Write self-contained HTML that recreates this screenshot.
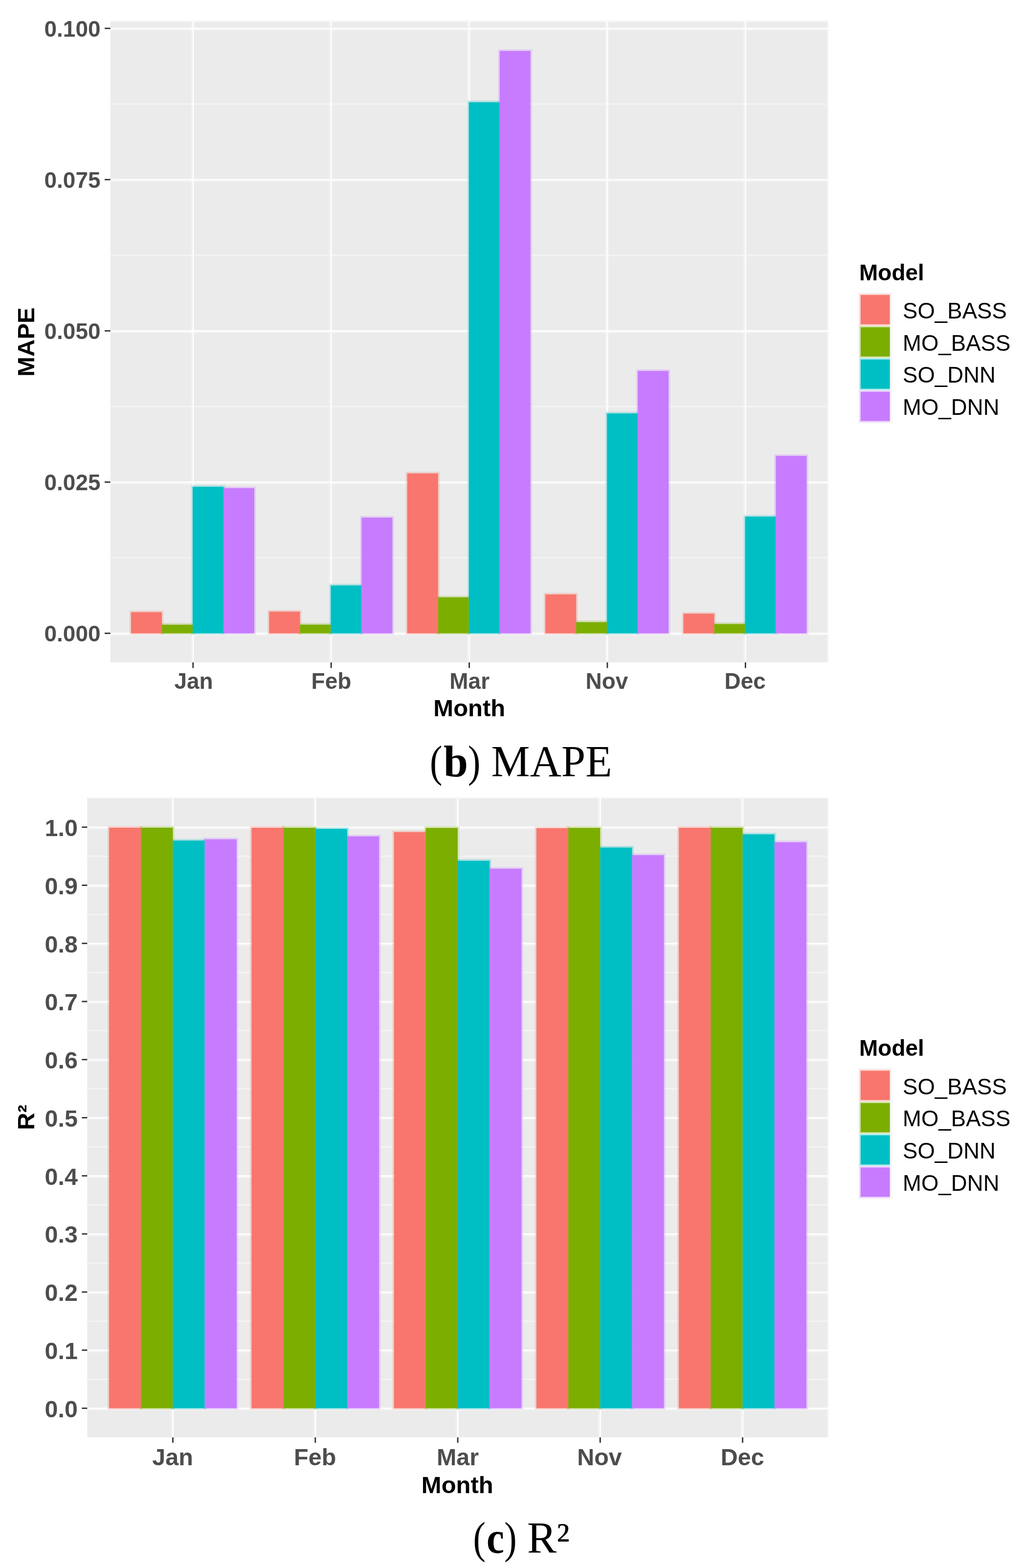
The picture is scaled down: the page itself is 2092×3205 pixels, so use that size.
<!DOCTYPE html>
<html><head><meta charset='utf-8'><title>MAPE and R2 by month</title>
<style>html,body{margin:0;padding:0;background:#fff;}body{width:2092px;height:3205px;overflow:hidden;}svg{display:block;}</style>
</head><body>
<svg width='2092' height='3205' viewBox='0 0 2092 3205'>
<rect x='0' y='0' width='2092' height='3205' fill='#FFFFFF'/>
<rect x='225.7' y='41' width='1467.8' height='3.3' fill='#F9F9F9'/>
<rect x='225.7' y='44.3' width='1467.8' height='1309.5' fill='#EBEBEB'/>
<rect x='1690.5' y='44.3' width='3' height='1309.5' fill='#F1F1F1'/>
<rect x='225.7' y='1138.64' width='1467.8' height='2.8' fill='#F4F4F4'/>
<rect x='225.7' y='829.51' width='1467.8' height='2.8' fill='#F4F4F4'/>
<rect x='225.7' y='520.39' width='1467.8' height='2.8' fill='#F4F4F4'/>
<rect x='225.7' y='211.26' width='1467.8' height='2.8' fill='#F4F4F4'/>
<rect x='225.7' y='1296.1' width='1467.8' height='3' fill='#F2F2F2'/>
<rect x='225.7' y='986.98' width='1467.8' height='3' fill='#F2F2F2'/>
<rect x='225.7' y='677.85' width='1467.8' height='3' fill='#F2F2F2'/>
<rect x='225.7' y='368.73' width='1467.8' height='3' fill='#F2F2F2'/>
<rect x='225.7' y='59.6' width='1467.8' height='3' fill='#F2F2F2'/>
<rect x='390.5' y='44.3' width='3.5' height='1309.5' fill='#F2F2F2'/>
<rect x='672.9' y='44.3' width='3.5' height='1309.5' fill='#F2F2F2'/>
<rect x='955.3' y='44.3' width='3.5' height='1309.5' fill='#F2F2F2'/>
<rect x='1237.7' y='44.3' width='3.5' height='1309.5' fill='#F2F2F2'/>
<rect x='1520.1' y='44.3' width='3.5' height='1309.5' fill='#F2F2F2'/>
<rect x='225.7' y='1293.3' width='1467.8' height='2.8' fill='#FFFFFF'/>
<rect x='225.7' y='984.17' width='1467.8' height='2.8' fill='#FFFFFF'/>
<rect x='225.7' y='675.05' width='1467.8' height='2.8' fill='#FFFFFF'/>
<rect x='225.7' y='365.93' width='1467.8' height='2.8' fill='#FFFFFF'/>
<rect x='225.7' y='56.8' width='1467.8' height='2.8' fill='#FFFFFF'/>
<rect x='394' y='44.3' width='2.4' height='1309.5' fill='#FFFFFF'/>
<rect x='676.4' y='44.3' width='2.4' height='1309.5' fill='#FFFFFF'/>
<rect x='958.8' y='44.3' width='2.4' height='1309.5' fill='#FFFFFF'/>
<rect x='1241.2' y='44.3' width='2.4' height='1309.5' fill='#FFFFFF'/>
<rect x='1523.6' y='44.3' width='2.4' height='1309.5' fill='#FFFFFF'/>
<rect x='264.8' y='1248' width='69.5' height='49' fill='#F8766D' fill-opacity='0.25'/>
<rect x='327.8' y='1273.7' width='69.5' height='23.3' fill='#7CAE00' fill-opacity='0.25'/>
<rect x='390.8' y='991.7' width='69.5' height='305.3' fill='#00BFC4' fill-opacity='0.25'/>
<rect x='453.8' y='994.4' width='69.5' height='302.6' fill='#C77CFF' fill-opacity='0.25'/>
<rect x='268' y='1251.3' width='63' height='43.2' fill='#F8766D'/>
<rect x='331' y='1277' width='63' height='17.5' fill='#7CAE00'/>
<rect x='394' y='995' width='63' height='299.5' fill='#00BFC4'/>
<rect x='457' y='997.7' width='63' height='296.8' fill='#C77CFF'/>
<rect x='547.2' y='1246.9' width='69.5' height='50.1' fill='#F8766D' fill-opacity='0.25'/>
<rect x='610.2' y='1273.6' width='69.5' height='23.4' fill='#7CAE00' fill-opacity='0.25'/>
<rect x='673.2' y='1193.4' width='69.5' height='103.6' fill='#00BFC4' fill-opacity='0.25'/>
<rect x='736.2' y='1054.7' width='69.5' height='242.3' fill='#C77CFF' fill-opacity='0.25'/>
<rect x='550.4' y='1250.2' width='63' height='44.3' fill='#F8766D'/>
<rect x='613.4' y='1276.9' width='63' height='17.6' fill='#7CAE00'/>
<rect x='676.4' y='1196.7' width='63' height='97.8' fill='#00BFC4'/>
<rect x='739.4' y='1058' width='63' height='236.5' fill='#C77CFF'/>
<rect x='829.6' y='964.4' width='69.5' height='332.6' fill='#F8766D' fill-opacity='0.25'/>
<rect x='892.6' y='1217.7' width='69.5' height='79.3' fill='#7CAE00' fill-opacity='0.25'/>
<rect x='955.6' y='205.7' width='69.5' height='1091.3' fill='#00BFC4' fill-opacity='0.25'/>
<rect x='1018.6' y='100.8' width='69.5' height='1196.2' fill='#C77CFF' fill-opacity='0.25'/>
<rect x='832.8' y='967.7' width='63' height='326.8' fill='#F8766D'/>
<rect x='895.8' y='1221' width='63' height='73.5' fill='#7CAE00'/>
<rect x='958.8' y='209' width='63' height='1085.5' fill='#00BFC4'/>
<rect x='1021.8' y='104.1' width='63' height='1190.4' fill='#C77CFF'/>
<rect x='1112' y='1211.7' width='69.5' height='85.3' fill='#F8766D' fill-opacity='0.25'/>
<rect x='1175' y='1268.5' width='69.5' height='28.5' fill='#7CAE00' fill-opacity='0.25'/>
<rect x='1238' y='841.7' width='69.5' height='455.3' fill='#00BFC4' fill-opacity='0.25'/>
<rect x='1301' y='754.9' width='69.5' height='542.1' fill='#C77CFF' fill-opacity='0.25'/>
<rect x='1115.2' y='1215' width='63' height='79.5' fill='#F8766D'/>
<rect x='1178.2' y='1271.8' width='63' height='22.7' fill='#7CAE00'/>
<rect x='1241.2' y='845' width='63' height='449.5' fill='#00BFC4'/>
<rect x='1304.2' y='758.2' width='63' height='536.3' fill='#C77CFF'/>
<rect x='1394.4' y='1251.1' width='69.5' height='45.9' fill='#F8766D' fill-opacity='0.25'/>
<rect x='1457.4' y='1272.3' width='69.5' height='24.7' fill='#7CAE00' fill-opacity='0.25'/>
<rect x='1520.4' y='1052.7' width='69.5' height='244.3' fill='#00BFC4' fill-opacity='0.25'/>
<rect x='1583.4' y='928.6' width='69.5' height='368.4' fill='#C77CFF' fill-opacity='0.25'/>
<rect x='1397.6' y='1254.4' width='63' height='40.1' fill='#F8766D'/>
<rect x='1460.6' y='1275.6' width='63' height='18.9' fill='#7CAE00'/>
<rect x='1523.6' y='1056' width='63' height='238.5' fill='#00BFC4'/>
<rect x='1586.6' y='931.9' width='63' height='362.6' fill='#C77CFF'/>
<rect x='214' y='1293.1' width='11.7' height='2.8' fill='#333333'/>
<rect x='214' y='983.98' width='11.7' height='2.8' fill='#333333'/>
<rect x='214' y='674.85' width='11.7' height='2.8' fill='#333333'/>
<rect x='214' y='365.73' width='11.7' height='2.8' fill='#333333'/>
<rect x='214' y='56.6' width='11.7' height='2.8' fill='#333333'/>
<rect x='393.4' y='1353.8' width='2.8' height='11.7' fill='#333333'/>
<rect x='675.8' y='1353.8' width='2.8' height='11.7' fill='#333333'/>
<rect x='958.2' y='1353.8' width='2.8' height='11.7' fill='#333333'/>
<rect x='1240.6' y='1353.8' width='2.8' height='11.7' fill='#333333'/>
<rect x='1523' y='1353.8' width='2.8' height='11.7' fill='#333333'/>
<text transform='translate(205.6,1311.2)' text-anchor='end' font-family="'Liberation Sans', Arial, sans-serif" font-weight='bold' font-size='46' fill='#4D4D4D'>0.000</text>
<text transform='translate(205.6,1002.08)' text-anchor='end' font-family="'Liberation Sans', Arial, sans-serif" font-weight='bold' font-size='46' fill='#4D4D4D'>0.025</text>
<text transform='translate(205.6,692.95)' text-anchor='end' font-family="'Liberation Sans', Arial, sans-serif" font-weight='bold' font-size='46' fill='#4D4D4D'>0.050</text>
<text transform='translate(205.6,383.82)' text-anchor='end' font-family="'Liberation Sans', Arial, sans-serif" font-weight='bold' font-size='46' fill='#4D4D4D'>0.075</text>
<text transform='translate(205.6,74.7)' text-anchor='end' font-family="'Liberation Sans', Arial, sans-serif" font-weight='bold' font-size='46' fill='#4D4D4D'>0.100</text>
<text transform='translate(396.05,1407.5)' text-anchor='middle' font-family="'Liberation Sans', Arial, sans-serif" font-weight='bold' font-size='46' fill='#4D4D4D'>Jan</text>
<text transform='translate(677.5,1407.5)' text-anchor='middle' font-family="'Liberation Sans', Arial, sans-serif" font-weight='bold' font-size='46' fill='#4D4D4D'>Feb</text>
<text transform='translate(960.2,1407.5)' text-anchor='middle' font-family="'Liberation Sans', Arial, sans-serif" font-weight='bold' font-size='46' fill='#4D4D4D'>Mar</text>
<text transform='translate(1240.9,1407.5)' text-anchor='middle' font-family="'Liberation Sans', Arial, sans-serif" font-weight='bold' font-size='46' fill='#4D4D4D'>Nov</text>
<text transform='translate(1523.7,1407.5)' text-anchor='middle' font-family="'Liberation Sans', Arial, sans-serif" font-weight='bold' font-size='46' fill='#4D4D4D'>Dec</text>
<text transform='translate(959.8,1463.7)' text-anchor='middle' font-family="'Liberation Sans', Arial, sans-serif" font-weight='bold' font-size='49' fill='#000'>Month</text>
<text transform='translate(70.2,699) rotate(-90)' text-anchor='middle' font-family="'Liberation Sans', Arial, sans-serif" font-weight='bold' font-size='49' fill='#000'>MAPE</text>
<text transform='translate(1757,572.5)' font-family="'Liberation Sans', Arial, sans-serif" font-weight='bold' font-size='46' fill='#000'>Model</text>
<rect x='1754' y='597' width='71.7' height='269.5' fill='#FAFAFA'/>
<rect x='1757' y='600' width='65.7' height='65.8' fill='#FFFFFF'/>
<rect x='1819.7' y='600' width='3' height='65.8' fill='#F2F2F2'/>
<rect x='1757' y='600' width='62.7' height='65.8' fill='#F8766D' fill-opacity='0.3'/>
<rect x='1760' y='603' width='59.7' height='59.8' fill='#F8766D'/>
<rect x='1757' y='665.9' width='65.7' height='65.8' fill='#FFFFFF'/>
<rect x='1819.7' y='665.9' width='3' height='65.8' fill='#F2F2F2'/>
<rect x='1757' y='665.9' width='62.7' height='65.8' fill='#7CAE00' fill-opacity='0.3'/>
<rect x='1760' y='668.9' width='59.7' height='59.8' fill='#7CAE00'/>
<rect x='1757' y='731.8' width='65.7' height='65.8' fill='#FFFFFF'/>
<rect x='1819.7' y='731.8' width='3' height='65.8' fill='#F2F2F2'/>
<rect x='1757' y='731.8' width='62.7' height='65.8' fill='#00BFC4' fill-opacity='0.3'/>
<rect x='1760' y='734.8' width='59.7' height='59.8' fill='#00BFC4'/>
<rect x='1757' y='797.7' width='65.7' height='65.8' fill='#FFFFFF'/>
<rect x='1819.7' y='797.7' width='3' height='65.8' fill='#F2F2F2'/>
<rect x='1757' y='797.7' width='62.7' height='65.8' fill='#C77CFF' fill-opacity='0.3'/>
<rect x='1760' y='800.7' width='59.7' height='59.8' fill='#C77CFF'/>
<text transform='translate(1846,650.8)' font-family="'Liberation Sans', Arial, sans-serif" font-size='45.6' fill='#000'>SO_BASS</text>
<text transform='translate(1846,716.6)' font-family="'Liberation Sans', Arial, sans-serif" font-size='45.6' fill='#000'>MO_BASS</text>
<text transform='translate(1846,782.4)' font-family="'Liberation Sans', Arial, sans-serif" font-size='45.6' fill='#000'>SO_DNN</text>
<text transform='translate(1846,848.2)' font-family="'Liberation Sans', Arial, sans-serif" font-size='45.6' fill='#000'>MO_DNN</text>
<text transform='translate(879.1,1586.5) scale(0.85,1.0)' font-family="'Liberation Serif', 'Times New Roman', serif" font-size='90' fill='#000'>(</text>
<text transform='translate(907,1586.5)' font-family="'Liberation Serif', 'Times New Roman', serif" font-weight='bold' font-size='90' fill='#000'>b</text>
<text transform='translate(957,1586.5) scale(0.85,1.0)' font-family="'Liberation Serif', 'Times New Roman', serif" font-size='90' fill='#000'>)</text>
<text transform='translate(1004.6,1586.5) scale(0.988,1.0)' font-family="'Liberation Serif', 'Times New Roman', serif" font-size='90' fill='#000'>MAPE</text>
<rect x='178.4' y='1628.7' width='1515.2' height='3.3' fill='#F9F9F9'/>
<rect x='178.4' y='1632' width='1515.2' height='1306' fill='#EBEBEB'/>
<rect x='1690.6' y='1632' width='3' height='1306' fill='#F1F1F1'/>
<rect x='178.4' y='2817.81' width='1515.2' height='2.8' fill='#F4F4F4'/>
<rect x='178.4' y='2699.03' width='1515.2' height='2.8' fill='#F4F4F4'/>
<rect x='178.4' y='2580.25' width='1515.2' height='2.8' fill='#F4F4F4'/>
<rect x='178.4' y='2461.47' width='1515.2' height='2.8' fill='#F4F4F4'/>
<rect x='178.4' y='2342.69' width='1515.2' height='2.8' fill='#F4F4F4'/>
<rect x='178.4' y='2223.91' width='1515.2' height='2.8' fill='#F4F4F4'/>
<rect x='178.4' y='2105.13' width='1515.2' height='2.8' fill='#F4F4F4'/>
<rect x='178.4' y='1986.35' width='1515.2' height='2.8' fill='#F4F4F4'/>
<rect x='178.4' y='1867.57' width='1515.2' height='2.8' fill='#F4F4F4'/>
<rect x='178.4' y='1748.79' width='1515.2' height='2.8' fill='#F4F4F4'/>
<rect x='178.4' y='2880.1' width='1515.2' height='3' fill='#F2F2F2'/>
<rect x='178.4' y='2761.32' width='1515.2' height='3' fill='#F2F2F2'/>
<rect x='178.4' y='2642.54' width='1515.2' height='3' fill='#F2F2F2'/>
<rect x='178.4' y='2523.76' width='1515.2' height='3' fill='#F2F2F2'/>
<rect x='178.4' y='2404.98' width='1515.2' height='3' fill='#F2F2F2'/>
<rect x='178.4' y='2286.2' width='1515.2' height='3' fill='#F2F2F2'/>
<rect x='178.4' y='2167.42' width='1515.2' height='3' fill='#F2F2F2'/>
<rect x='178.4' y='2048.64' width='1515.2' height='3' fill='#F2F2F2'/>
<rect x='178.4' y='1929.86' width='1515.2' height='3' fill='#F2F2F2'/>
<rect x='178.4' y='1811.08' width='1515.2' height='3' fill='#F2F2F2'/>
<rect x='178.4' y='1692.3' width='1515.2' height='3' fill='#F2F2F2'/>
<rect x='349.2' y='1632' width='3.5' height='1306' fill='#F2F2F2'/>
<rect x='640.48' y='1632' width='3.5' height='1306' fill='#F2F2F2'/>
<rect x='931.76' y='1632' width='3.5' height='1306' fill='#F2F2F2'/>
<rect x='1223.04' y='1632' width='3.5' height='1306' fill='#F2F2F2'/>
<rect x='1514.32' y='1632' width='3.5' height='1306' fill='#F2F2F2'/>
<rect x='178.4' y='2877.3' width='1515.2' height='2.8' fill='#FFFFFF'/>
<rect x='178.4' y='2758.52' width='1515.2' height='2.8' fill='#FFFFFF'/>
<rect x='178.4' y='2639.74' width='1515.2' height='2.8' fill='#FFFFFF'/>
<rect x='178.4' y='2520.96' width='1515.2' height='2.8' fill='#FFFFFF'/>
<rect x='178.4' y='2402.18' width='1515.2' height='2.8' fill='#FFFFFF'/>
<rect x='178.4' y='2283.4' width='1515.2' height='2.8' fill='#FFFFFF'/>
<rect x='178.4' y='2164.62' width='1515.2' height='2.8' fill='#FFFFFF'/>
<rect x='178.4' y='2045.84' width='1515.2' height='2.8' fill='#FFFFFF'/>
<rect x='178.4' y='1927.06' width='1515.2' height='2.8' fill='#FFFFFF'/>
<rect x='178.4' y='1808.28' width='1515.2' height='2.8' fill='#FFFFFF'/>
<rect x='178.4' y='1689.5' width='1515.2' height='2.8' fill='#FFFFFF'/>
<rect x='352.7' y='1632' width='2.6' height='1306' fill='#FFFFFF'/>
<rect x='643.98' y='1632' width='2.6' height='1306' fill='#FFFFFF'/>
<rect x='935.26' y='1632' width='2.6' height='1306' fill='#FFFFFF'/>
<rect x='1226.54' y='1632' width='2.6' height='1306' fill='#FFFFFF'/>
<rect x='1517.82' y='1632' width='2.6' height='1306' fill='#FFFFFF'/>
<rect x='219.9' y='1688.4' width='71.7' height='1192.6' fill='#F8766D' fill-opacity='0.25'/>
<rect x='285.1' y='1688.4' width='71.7' height='1192.6' fill='#7CAE00' fill-opacity='0.25'/>
<rect x='350.3' y='1714.8' width='71.7' height='1166.2' fill='#00BFC4' fill-opacity='0.25'/>
<rect x='415.5' y='1712.2' width='71.7' height='1168.8' fill='#C77CFF' fill-opacity='0.25'/>
<rect x='223.1' y='1691.7' width='65.2' height='1186.8' fill='#F8766D'/>
<rect x='288.3' y='1691.7' width='65.2' height='1186.8' fill='#7CAE00'/>
<rect x='353.5' y='1718.1' width='65.2' height='1160.4' fill='#00BFC4'/>
<rect x='418.7' y='1715.5' width='65.2' height='1163' fill='#C77CFF'/>
<rect x='511.18' y='1688.6' width='71.7' height='1192.4' fill='#F8766D' fill-opacity='0.25'/>
<rect x='576.38' y='1688.6' width='71.7' height='1192.4' fill='#7CAE00' fill-opacity='0.25'/>
<rect x='641.58' y='1690.9' width='71.7' height='1190.1' fill='#00BFC4' fill-opacity='0.25'/>
<rect x='706.78' y='1706.3' width='71.7' height='1174.7' fill='#C77CFF' fill-opacity='0.25'/>
<rect x='514.38' y='1691.9' width='65.2' height='1186.6' fill='#F8766D'/>
<rect x='579.58' y='1691.9' width='65.2' height='1186.6' fill='#7CAE00'/>
<rect x='644.78' y='1694.2' width='65.2' height='1184.3' fill='#00BFC4'/>
<rect x='709.98' y='1709.6' width='65.2' height='1168.9' fill='#C77CFF'/>
<rect x='802.46' y='1697.6' width='71.7' height='1183.4' fill='#F8766D' fill-opacity='0.25'/>
<rect x='867.66' y='1688.9' width='71.7' height='1192.1' fill='#7CAE00' fill-opacity='0.25'/>
<rect x='932.86' y='1756.2' width='71.7' height='1124.8' fill='#00BFC4' fill-opacity='0.25'/>
<rect x='998.06' y='1772.4' width='71.7' height='1108.6' fill='#C77CFF' fill-opacity='0.25'/>
<rect x='805.66' y='1700.9' width='65.2' height='1177.6' fill='#F8766D'/>
<rect x='870.86' y='1692.2' width='65.2' height='1186.3' fill='#7CAE00'/>
<rect x='936.06' y='1759.5' width='65.2' height='1119' fill='#00BFC4'/>
<rect x='1001.26' y='1775.7' width='65.2' height='1102.8' fill='#C77CFF'/>
<rect x='1093.74' y='1689.5' width='71.7' height='1191.5' fill='#F8766D' fill-opacity='0.25'/>
<rect x='1158.94' y='1688.9' width='71.7' height='1192.1' fill='#7CAE00' fill-opacity='0.25'/>
<rect x='1224.14' y='1729.1' width='71.7' height='1151.9' fill='#00BFC4' fill-opacity='0.25'/>
<rect x='1289.34' y='1744.6' width='71.7' height='1136.4' fill='#C77CFF' fill-opacity='0.25'/>
<rect x='1096.94' y='1692.8' width='65.2' height='1185.7' fill='#F8766D'/>
<rect x='1162.14' y='1692.2' width='65.2' height='1186.3' fill='#7CAE00'/>
<rect x='1227.34' y='1732.4' width='65.2' height='1146.1' fill='#00BFC4'/>
<rect x='1292.54' y='1747.9' width='65.2' height='1130.6' fill='#C77CFF'/>
<rect x='1385.02' y='1688.6' width='71.7' height='1192.4' fill='#F8766D' fill-opacity='0.25'/>
<rect x='1450.22' y='1688.6' width='71.7' height='1192.4' fill='#7CAE00' fill-opacity='0.25'/>
<rect x='1515.42' y='1702.1' width='71.7' height='1178.9' fill='#00BFC4' fill-opacity='0.25'/>
<rect x='1580.62' y='1718.3' width='71.7' height='1162.7' fill='#C77CFF' fill-opacity='0.25'/>
<rect x='1388.22' y='1691.9' width='65.2' height='1186.6' fill='#F8766D'/>
<rect x='1453.42' y='1691.9' width='65.2' height='1186.6' fill='#7CAE00'/>
<rect x='1518.62' y='1705.4' width='65.2' height='1173.1' fill='#00BFC4'/>
<rect x='1583.82' y='1721.6' width='65.2' height='1156.9' fill='#C77CFF'/>
<rect x='167.4' y='2877.1' width='11' height='2.8' fill='#333333'/>
<rect x='167.4' y='2758.32' width='11' height='2.8' fill='#333333'/>
<rect x='167.4' y='2639.54' width='11' height='2.8' fill='#333333'/>
<rect x='167.4' y='2520.76' width='11' height='2.8' fill='#333333'/>
<rect x='167.4' y='2401.98' width='11' height='2.8' fill='#333333'/>
<rect x='167.4' y='2283.2' width='11' height='2.8' fill='#333333'/>
<rect x='167.4' y='2164.42' width='11' height='2.8' fill='#333333'/>
<rect x='167.4' y='2045.64' width='11' height='2.8' fill='#333333'/>
<rect x='167.4' y='1926.86' width='11' height='2.8' fill='#333333'/>
<rect x='167.4' y='1808.08' width='11' height='2.8' fill='#333333'/>
<rect x='167.4' y='1689.3' width='11' height='2.8' fill='#333333'/>
<rect x='352.1' y='2938' width='2.8' height='11' fill='#333333'/>
<rect x='643.38' y='2938' width='2.8' height='11' fill='#333333'/>
<rect x='934.66' y='2938' width='2.8' height='11' fill='#333333'/>
<rect x='1225.94' y='2938' width='2.8' height='11' fill='#333333'/>
<rect x='1517.22' y='2938' width='2.8' height='11' fill='#333333'/>
<text transform='translate(159,2896.8)' text-anchor='end' font-family="'Liberation Sans', Arial, sans-serif" font-weight='bold' font-size='48.5' fill='#4D4D4D'>0.0</text>
<text transform='translate(159,2778.02)' text-anchor='end' font-family="'Liberation Sans', Arial, sans-serif" font-weight='bold' font-size='48.5' fill='#4D4D4D'>0.1</text>
<text transform='translate(159,2659.24)' text-anchor='end' font-family="'Liberation Sans', Arial, sans-serif" font-weight='bold' font-size='48.5' fill='#4D4D4D'>0.2</text>
<text transform='translate(159,2540.46)' text-anchor='end' font-family="'Liberation Sans', Arial, sans-serif" font-weight='bold' font-size='48.5' fill='#4D4D4D'>0.3</text>
<text transform='translate(159,2421.68)' text-anchor='end' font-family="'Liberation Sans', Arial, sans-serif" font-weight='bold' font-size='48.5' fill='#4D4D4D'>0.4</text>
<text transform='translate(159,2302.9)' text-anchor='end' font-family="'Liberation Sans', Arial, sans-serif" font-weight='bold' font-size='48.5' fill='#4D4D4D'>0.5</text>
<text transform='translate(159,2184.12)' text-anchor='end' font-family="'Liberation Sans', Arial, sans-serif" font-weight='bold' font-size='48.5' fill='#4D4D4D'>0.6</text>
<text transform='translate(159,2065.34)' text-anchor='end' font-family="'Liberation Sans', Arial, sans-serif" font-weight='bold' font-size='48.5' fill='#4D4D4D'>0.7</text>
<text transform='translate(159,1946.56)' text-anchor='end' font-family="'Liberation Sans', Arial, sans-serif" font-weight='bold' font-size='48.5' fill='#4D4D4D'>0.8</text>
<text transform='translate(159,1827.78)' text-anchor='end' font-family="'Liberation Sans', Arial, sans-serif" font-weight='bold' font-size='48.5' fill='#4D4D4D'>0.9</text>
<text transform='translate(159,1709)' text-anchor='end' font-family="'Liberation Sans', Arial, sans-serif" font-weight='bold' font-size='48.5' fill='#4D4D4D'>1.0</text>
<text transform='translate(353.05,2994.6)' text-anchor='middle' font-family="'Liberation Sans', Arial, sans-serif" font-weight='bold' font-size='48.5' fill='#4D4D4D'>Jan</text>
<text transform='translate(644.18,2994.6)' text-anchor='middle' font-family="'Liberation Sans', Arial, sans-serif" font-weight='bold' font-size='48.5' fill='#4D4D4D'>Feb</text>
<text transform='translate(936.06,2994.6)' text-anchor='middle' font-family="'Liberation Sans', Arial, sans-serif" font-weight='bold' font-size='48.5' fill='#4D4D4D'>Mar</text>
<text transform='translate(1225.94,2994.6)' text-anchor='middle' font-family="'Liberation Sans', Arial, sans-serif" font-weight='bold' font-size='48.5' fill='#4D4D4D'>Nov</text>
<text transform='translate(1518.12,2994.6)' text-anchor='middle' font-family="'Liberation Sans', Arial, sans-serif" font-weight='bold' font-size='48.5' fill='#4D4D4D'>Dec</text>
<text transform='translate(935.3,3052.3)' text-anchor='middle' font-family="'Liberation Sans', Arial, sans-serif" font-weight='bold' font-size='49' fill='#000'>Month</text>
<text transform='translate(70.2,2283.9) rotate(-90)' text-anchor='middle' font-family="'Liberation Sans', Arial, sans-serif" font-weight='bold' font-size='49' fill='#000'>R²</text>
<text transform='translate(1757,2158.2)' font-family="'Liberation Sans', Arial, sans-serif" font-weight='bold' font-size='46' fill='#000'>Model</text>
<rect x='1754' y='2182.7' width='71.7' height='269.5' fill='#FAFAFA'/>
<rect x='1757' y='2185.7' width='65.7' height='65.8' fill='#FFFFFF'/>
<rect x='1819.7' y='2185.7' width='3' height='65.8' fill='#F2F2F2'/>
<rect x='1757' y='2185.7' width='62.7' height='65.8' fill='#F8766D' fill-opacity='0.3'/>
<rect x='1760' y='2188.7' width='59.7' height='59.8' fill='#F8766D'/>
<rect x='1757' y='2251.6' width='65.7' height='65.8' fill='#FFFFFF'/>
<rect x='1819.7' y='2251.6' width='3' height='65.8' fill='#F2F2F2'/>
<rect x='1757' y='2251.6' width='62.7' height='65.8' fill='#7CAE00' fill-opacity='0.3'/>
<rect x='1760' y='2254.6' width='59.7' height='59.8' fill='#7CAE00'/>
<rect x='1757' y='2317.5' width='65.7' height='65.8' fill='#FFFFFF'/>
<rect x='1819.7' y='2317.5' width='3' height='65.8' fill='#F2F2F2'/>
<rect x='1757' y='2317.5' width='62.7' height='65.8' fill='#00BFC4' fill-opacity='0.3'/>
<rect x='1760' y='2320.5' width='59.7' height='59.8' fill='#00BFC4'/>
<rect x='1757' y='2383.4' width='65.7' height='65.8' fill='#FFFFFF'/>
<rect x='1819.7' y='2383.4' width='3' height='65.8' fill='#F2F2F2'/>
<rect x='1757' y='2383.4' width='62.7' height='65.8' fill='#C77CFF' fill-opacity='0.3'/>
<rect x='1760' y='2386.4' width='59.7' height='59.8' fill='#C77CFF'/>
<text transform='translate(1846,2236.5)' font-family="'Liberation Sans', Arial, sans-serif" font-size='45.6' fill='#000'>SO_BASS</text>
<text transform='translate(1846,2302.3)' font-family="'Liberation Sans', Arial, sans-serif" font-size='45.6' fill='#000'>MO_BASS</text>
<text transform='translate(1846,2368.1)' font-family="'Liberation Sans', Arial, sans-serif" font-size='45.6' fill='#000'>SO_DNN</text>
<text transform='translate(1846,2433.9)' font-family="'Liberation Sans', Arial, sans-serif" font-size='45.6' fill='#000'>MO_DNN</text>
<text transform='translate(967.6,3174) scale(0.85,1.0)' font-family="'Liberation Serif', 'Times New Roman', serif" font-size='90' fill='#000'>(</text>
<text transform='translate(995.1,3174) scale(0.9,1.0)' font-family="'Liberation Serif', 'Times New Roman', serif" font-weight='bold' font-size='90' fill='#000'>c</text>
<text transform='translate(1031.25,3174) scale(0.85,1.0)' font-family="'Liberation Serif', 'Times New Roman', serif" font-size='90' fill='#000'>)</text>
<text transform='translate(1078,3174)' font-family="'Liberation Serif', 'Times New Roman', serif" font-size='90' fill='#000'>R²</text>
</svg>
</body></html>
